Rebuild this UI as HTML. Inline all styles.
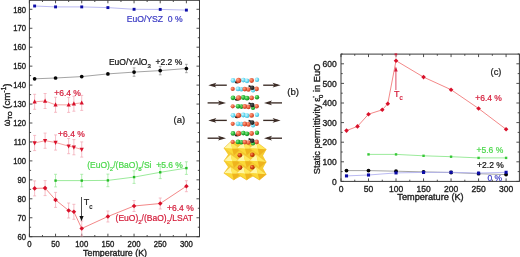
<!DOCTYPE html>
<html><head><meta charset="utf-8"><title>EuO phonon and permittivity figure</title><style>
html,body{margin:0;padding:0;background:#fff;width:520px;height:257px;overflow:hidden;}
svg{display:block;font-family:"Liberation Sans", Arial, sans-serif;filter:blur(0.3px);}
text{white-space:pre;}
.t{stroke-width:0.36px;}
</style></head><body>
<svg width="520" height="257" viewBox="0 0 520 257">
<rect x="29.4" y="0.3" width="170.10" height="236.40" fill="none" stroke="#3a3a3a" stroke-width="1"/>
<path d="M29.40 236.7v-3M29.40 0.3v3" stroke="#3a3a3a" stroke-width="0.9"/>
<text class="t" transform="translate(29.40,246.7) scale(0.91,1)" font-size="8.5" fill="#1e1e1e" stroke="#1e1e1e" stroke-width="0.22" text-anchor="middle">0</text>
<path d="M42.48 236.7v-1.7M42.48 0.3v1.7" stroke="#3a3a3a" stroke-width="0.9"/>
<path d="M55.56 236.7v-3M55.56 0.3v3" stroke="#3a3a3a" stroke-width="0.9"/>
<text class="t" transform="translate(55.56,246.7) scale(0.91,1)" font-size="8.5" fill="#1e1e1e" stroke="#1e1e1e" stroke-width="0.22" text-anchor="middle">50</text>
<path d="M68.65 236.7v-1.7M68.65 0.3v1.7" stroke="#3a3a3a" stroke-width="0.9"/>
<path d="M81.73 236.7v-3M81.73 0.3v3" stroke="#3a3a3a" stroke-width="0.9"/>
<text class="t" transform="translate(81.73,246.7) scale(0.91,1)" font-size="8.5" fill="#1e1e1e" stroke="#1e1e1e" stroke-width="0.22" text-anchor="middle">100</text>
<path d="M94.81 236.7v-1.7M94.81 0.3v1.7" stroke="#3a3a3a" stroke-width="0.9"/>
<path d="M107.90 236.7v-3M107.90 0.3v3" stroke="#3a3a3a" stroke-width="0.9"/>
<text class="t" transform="translate(107.90,246.7) scale(0.91,1)" font-size="8.5" fill="#1e1e1e" stroke="#1e1e1e" stroke-width="0.22" text-anchor="middle">150</text>
<path d="M120.98 236.7v-1.7M120.98 0.3v1.7" stroke="#3a3a3a" stroke-width="0.9"/>
<path d="M134.06 236.7v-3M134.06 0.3v3" stroke="#3a3a3a" stroke-width="0.9"/>
<text class="t" transform="translate(134.06,246.7) scale(0.91,1)" font-size="8.5" fill="#1e1e1e" stroke="#1e1e1e" stroke-width="0.22" text-anchor="middle">200</text>
<path d="M147.14 236.7v-1.7M147.14 0.3v1.7" stroke="#3a3a3a" stroke-width="0.9"/>
<path d="M160.22 236.7v-3M160.22 0.3v3" stroke="#3a3a3a" stroke-width="0.9"/>
<text class="t" transform="translate(160.22,246.7) scale(0.91,1)" font-size="8.5" fill="#1e1e1e" stroke="#1e1e1e" stroke-width="0.22" text-anchor="middle">250</text>
<path d="M173.31 236.7v-1.7M173.31 0.3v1.7" stroke="#3a3a3a" stroke-width="0.9"/>
<path d="M186.39 236.7v-3M186.39 0.3v3" stroke="#3a3a3a" stroke-width="0.9"/>
<text class="t" transform="translate(186.39,246.7) scale(0.91,1)" font-size="8.5" fill="#1e1e1e" stroke="#1e1e1e" stroke-width="0.22" text-anchor="middle">300</text>
<path d="M199.47 236.7v-1.7M199.47 0.3v1.7" stroke="#3a3a3a" stroke-width="0.9"/>
<path d="M29.4 236.70h3M199.5 236.70h-3" stroke="#3a3a3a" stroke-width="0.9"/>
<text class="t" transform="translate(25.9,239.90) scale(0.91,1)" font-size="8.4" fill="#1e1e1e" stroke="#1e1e1e" stroke-width="0.22" text-anchor="end">60</text>
<path d="M29.4 227.22h1.7M199.5 227.22h-1.7" stroke="#3a3a3a" stroke-width="0.9"/>
<path d="M29.4 217.75h3M199.5 217.75h-3" stroke="#3a3a3a" stroke-width="0.9"/>
<text class="t" transform="translate(25.9,220.95) scale(0.91,1)" font-size="8.4" fill="#1e1e1e" stroke="#1e1e1e" stroke-width="0.22" text-anchor="end">70</text>
<path d="M29.4 208.27h1.7M199.5 208.27h-1.7" stroke="#3a3a3a" stroke-width="0.9"/>
<path d="M29.4 198.80h3M199.5 198.80h-3" stroke="#3a3a3a" stroke-width="0.9"/>
<text class="t" transform="translate(25.9,202.00) scale(0.91,1)" font-size="8.4" fill="#1e1e1e" stroke="#1e1e1e" stroke-width="0.22" text-anchor="end">80</text>
<path d="M29.4 189.32h1.7M199.5 189.32h-1.7" stroke="#3a3a3a" stroke-width="0.9"/>
<path d="M29.4 179.85h3M199.5 179.85h-3" stroke="#3a3a3a" stroke-width="0.9"/>
<text class="t" transform="translate(25.9,183.05) scale(0.91,1)" font-size="8.4" fill="#1e1e1e" stroke="#1e1e1e" stroke-width="0.22" text-anchor="end">90</text>
<path d="M29.4 170.38h1.7M199.5 170.38h-1.7" stroke="#3a3a3a" stroke-width="0.9"/>
<path d="M29.4 160.90h3M199.5 160.90h-3" stroke="#3a3a3a" stroke-width="0.9"/>
<text class="t" transform="translate(25.9,164.10) scale(0.91,1)" font-size="8.4" fill="#1e1e1e" stroke="#1e1e1e" stroke-width="0.22" text-anchor="end">100</text>
<path d="M29.4 151.42h1.7M199.5 151.42h-1.7" stroke="#3a3a3a" stroke-width="0.9"/>
<path d="M29.4 141.95h3M199.5 141.95h-3" stroke="#3a3a3a" stroke-width="0.9"/>
<text class="t" transform="translate(25.9,145.15) scale(0.91,1)" font-size="8.4" fill="#1e1e1e" stroke="#1e1e1e" stroke-width="0.22" text-anchor="end">110</text>
<path d="M29.4 132.47h1.7M199.5 132.47h-1.7" stroke="#3a3a3a" stroke-width="0.9"/>
<path d="M29.4 123.00h3M199.5 123.00h-3" stroke="#3a3a3a" stroke-width="0.9"/>
<text class="t" transform="translate(25.9,126.20) scale(0.91,1)" font-size="8.4" fill="#1e1e1e" stroke="#1e1e1e" stroke-width="0.22" text-anchor="end">120</text>
<path d="M29.4 113.52h1.7M199.5 113.52h-1.7" stroke="#3a3a3a" stroke-width="0.9"/>
<path d="M29.4 104.05h3M199.5 104.05h-3" stroke="#3a3a3a" stroke-width="0.9"/>
<text class="t" transform="translate(25.9,107.25) scale(0.91,1)" font-size="8.4" fill="#1e1e1e" stroke="#1e1e1e" stroke-width="0.22" text-anchor="end">130</text>
<path d="M29.4 94.57h1.7M199.5 94.57h-1.7" stroke="#3a3a3a" stroke-width="0.9"/>
<path d="M29.4 85.10h3M199.5 85.10h-3" stroke="#3a3a3a" stroke-width="0.9"/>
<text class="t" transform="translate(25.9,88.30) scale(0.91,1)" font-size="8.4" fill="#1e1e1e" stroke="#1e1e1e" stroke-width="0.22" text-anchor="end">140</text>
<path d="M29.4 75.62h1.7M199.5 75.62h-1.7" stroke="#3a3a3a" stroke-width="0.9"/>
<path d="M29.4 66.15h3M199.5 66.15h-3" stroke="#3a3a3a" stroke-width="0.9"/>
<text class="t" transform="translate(25.9,69.35) scale(0.91,1)" font-size="8.4" fill="#1e1e1e" stroke="#1e1e1e" stroke-width="0.22" text-anchor="end">150</text>
<path d="M29.4 56.67h1.7M199.5 56.67h-1.7" stroke="#3a3a3a" stroke-width="0.9"/>
<path d="M29.4 47.20h3M199.5 47.20h-3" stroke="#3a3a3a" stroke-width="0.9"/>
<text class="t" transform="translate(25.9,50.40) scale(0.91,1)" font-size="8.4" fill="#1e1e1e" stroke="#1e1e1e" stroke-width="0.22" text-anchor="end">160</text>
<path d="M29.4 37.72h1.7M199.5 37.72h-1.7" stroke="#3a3a3a" stroke-width="0.9"/>
<path d="M29.4 28.25h3M199.5 28.25h-3" stroke="#3a3a3a" stroke-width="0.9"/>
<text class="t" transform="translate(25.9,31.45) scale(0.91,1)" font-size="8.4" fill="#1e1e1e" stroke="#1e1e1e" stroke-width="0.22" text-anchor="end">170</text>
<path d="M29.4 18.77h1.7M199.5 18.77h-1.7" stroke="#3a3a3a" stroke-width="0.9"/>
<path d="M29.4 9.30h3M199.5 9.30h-3" stroke="#3a3a3a" stroke-width="0.9"/>
<text class="t" transform="translate(25.9,12.50) scale(0.91,1)" font-size="8.4" fill="#1e1e1e" stroke="#1e1e1e" stroke-width="0.22" text-anchor="end">180</text>
<path d="M29.4 -0.18h1.7M199.5 -0.18h-1.7" stroke="#3a3a3a" stroke-width="0.9"/>
<text x="83.1" y="255.8" font-size="8.85" fill="#1e1e1e" stroke="#1e1e1e" stroke-width="0.22" class="t">Temperature (K)</text>
<text class="t" transform="translate(10.0,126.2) rotate(-90)" font-size="9.8" fill="#1e1e1e" stroke="#1e1e1e" stroke-width="0.22"><tspan font-size="8.6">ω</tspan><tspan font-size="5.8" dy="2.4">TO</tspan><tspan dy="-2.4"> (cm</tspan><tspan font-size="6.4" dy="-3.8">-1</tspan><tspan dy="3.8">)</tspan></text>
<polyline points="34.63,6.00 55.56,6.90 81.73,6.90 107.90,7.60 134.06,9.30 160.22,9.40 186.39,10.10" fill="none" stroke="#aeaef0" stroke-width="0.85"/>
<rect x="33.18" y="4.55" width="2.9" height="2.9" fill="#0c0ca8"/>
<rect x="54.11" y="5.45" width="2.9" height="2.9" fill="#0c0ca8"/>
<rect x="80.28" y="5.45" width="2.9" height="2.9" fill="#0c0ca8"/>
<rect x="106.45" y="6.15" width="2.9" height="2.9" fill="#0c0ca8"/>
<rect x="132.61" y="7.85" width="2.9" height="2.9" fill="#0c0ca8"/>
<rect x="158.78" y="7.95" width="2.9" height="2.9" fill="#0c0ca8"/>
<rect x="184.94" y="8.65" width="2.9" height="2.9" fill="#0c0ca8"/>
<text x="126.8" y="21.5" font-size="8.6" fill="#3c3cc4" stroke="#3c3cc4" stroke-width="0.22" >EuO/YSZ  0 %</text>
<path d="M134.06 67.90V76.30M132.66 67.90H135.46M132.66 76.30H135.46" stroke="#777" stroke-width="0.6" fill="none"/>
<path d="M160.22 66.40V74.80M158.82 66.40H161.62M158.82 74.80H161.62" stroke="#777" stroke-width="0.6" fill="none"/>
<path d="M186.39 64.30V72.70M184.99 64.30H187.79M184.99 72.70H187.79" stroke="#777" stroke-width="0.6" fill="none"/>
<polyline points="34.63,78.80 55.56,78.00 81.73,76.60 107.90,73.90 134.06,72.10 160.22,70.60 186.39,68.50" fill="none" stroke="#9a9a9a" stroke-width="0.9"/>
<circle cx="34.63" cy="78.80" r="1.85" fill="#050505"/>
<circle cx="55.56" cy="78.00" r="1.85" fill="#050505"/>
<circle cx="81.73" cy="76.60" r="1.85" fill="#050505"/>
<circle cx="107.90" cy="73.90" r="1.85" fill="#050505"/>
<circle cx="134.06" cy="72.10" r="1.85" fill="#050505"/>
<circle cx="160.22" cy="70.60" r="1.85" fill="#050505"/>
<circle cx="186.39" cy="68.50" r="1.85" fill="#050505"/>
<text x="108.9" y="65.1" font-size="8.5" fill="#111" stroke="#111" stroke-width="0.22" >EuO/YAlO<tspan font-size="6.0" dy="2.7">3</tspan><tspan dy="-2.7">  +2.2 %</tspan></text>
<path d="M34.63 94.30V109.30M33.13 94.30H36.13M33.13 109.30H36.13" stroke="#f2a4b0" stroke-width="0.7" fill="none"/>
<path d="M45.10 93.50V108.50M43.60 93.50H46.60M43.60 108.50H46.60" stroke="#f2a4b0" stroke-width="0.7" fill="none"/>
<path d="M55.56 97.30V112.30M54.06 97.30H57.06M54.06 112.30H57.06" stroke="#f2a4b0" stroke-width="0.7" fill="none"/>
<path d="M68.65 97.40V112.40M67.15 97.40H70.15M67.15 112.40H70.15" stroke="#f2a4b0" stroke-width="0.7" fill="none"/>
<path d="M73.88 96.20V111.20M72.38 96.20H75.38M72.38 111.20H75.38" stroke="#f2a4b0" stroke-width="0.7" fill="none"/>
<path d="M81.73 95.40V110.40M80.23 95.40H83.23M80.23 110.40H83.23" stroke="#f2a4b0" stroke-width="0.7" fill="none"/>
<polyline points="34.63,101.80 45.10,101.00 55.56,104.80 68.65,104.90 73.88,103.70 81.73,102.90" fill="none" stroke="#f27a7a" stroke-width="0.7"/>
<polygon points="34.63,99.28 32.53,103.48 36.73,103.48" fill="#d8102a"/>
<polygon points="45.10,98.48 43.00,102.68 47.20,102.68" fill="#d8102a"/>
<polygon points="55.56,102.28 53.46,106.48 57.66,106.48" fill="#d8102a"/>
<polygon points="68.65,102.38 66.55,106.58 70.75,106.58" fill="#d8102a"/>
<polygon points="73.88,101.18 71.78,105.38 75.98,105.38" fill="#d8102a"/>
<polygon points="81.73,100.38 79.63,104.58 83.83,104.58" fill="#d8102a"/>
<text x="54.2" y="96.3" font-size="8.5" fill="#d41c3a" stroke="#d41c3a" stroke-width="0.22" >+6.4 %</text>
<path d="M34.63 135.40V150.60M33.13 135.40H36.13M33.13 150.60H36.13" stroke="#f2a4b0" stroke-width="0.7" fill="none"/>
<path d="M45.10 133.10V148.30M43.60 133.10H46.60M43.60 148.30H46.60" stroke="#f2a4b0" stroke-width="0.7" fill="none"/>
<path d="M55.56 134.90V150.10M54.06 134.90H57.06M54.06 150.10H57.06" stroke="#f2a4b0" stroke-width="0.7" fill="none"/>
<path d="M68.65 138.50V153.70M67.15 138.50H70.15M67.15 153.70H70.15" stroke="#f2a4b0" stroke-width="0.7" fill="none"/>
<path d="M73.88 139.60V154.80M72.38 139.60H75.38M72.38 154.80H75.38" stroke="#f2a4b0" stroke-width="0.7" fill="none"/>
<path d="M81.73 141.90V157.10M80.23 141.90H83.23M80.23 157.10H83.23" stroke="#f2a4b0" stroke-width="0.7" fill="none"/>
<polyline points="34.63,143.00 45.10,140.70 55.56,142.50 68.65,146.10 73.88,147.20 81.73,149.50" fill="none" stroke="#f27a7a" stroke-width="0.7"/>
<polygon points="34.63,145.52 32.53,141.32 36.73,141.32" fill="#d8102a"/>
<polygon points="45.10,143.22 43.00,139.02 47.20,139.02" fill="#d8102a"/>
<polygon points="55.56,145.02 53.46,140.82 57.66,140.82" fill="#d8102a"/>
<polygon points="68.65,148.62 66.55,144.42 70.75,144.42" fill="#d8102a"/>
<polygon points="73.88,149.72 71.78,145.52 75.98,145.52" fill="#d8102a"/>
<polygon points="81.73,152.02 79.63,147.82 83.83,147.82" fill="#d8102a"/>
<text x="58.1" y="136.9" font-size="8.5" fill="#d41c3a" stroke="#d41c3a" stroke-width="0.22" >+6.4 %</text>
<path d="M55.56 174.30V186.90M54.06 174.30H57.06M54.06 186.90H57.06" stroke="#94e894" stroke-width="0.7" fill="none"/>
<path d="M81.73 174.30V186.90M80.23 174.30H83.23M80.23 186.90H83.23" stroke="#94e894" stroke-width="0.7" fill="none"/>
<path d="M107.90 174.10V186.70M106.40 174.10H109.40M106.40 186.70H109.40" stroke="#94e894" stroke-width="0.7" fill="none"/>
<path d="M134.06 170.80V183.40M132.56 170.80H135.56M132.56 183.40H135.56" stroke="#94e894" stroke-width="0.7" fill="none"/>
<path d="M160.22 166.00V178.60M158.72 166.00H161.72M158.72 178.60H161.72" stroke="#94e894" stroke-width="0.7" fill="none"/>
<path d="M186.39 161.80V174.40M184.89 161.80H187.89M184.89 174.40H187.89" stroke="#94e894" stroke-width="0.7" fill="none"/>
<polyline points="55.56,180.60 81.73,180.60 107.90,180.40 134.06,177.10 160.22,172.30 186.39,168.10" fill="none" stroke="#90e890" stroke-width="0.9"/>
<rect x="54.36" y="179.40" width="2.4" height="2.4" fill="#26bb26"/>
<rect x="80.53" y="179.40" width="2.4" height="2.4" fill="#26bb26"/>
<rect x="106.70" y="179.20" width="2.4" height="2.4" fill="#26bb26"/>
<rect x="132.86" y="175.90" width="2.4" height="2.4" fill="#26bb26"/>
<rect x="159.03" y="171.10" width="2.4" height="2.4" fill="#26bb26"/>
<rect x="185.19" y="166.90" width="2.4" height="2.4" fill="#26bb26"/>
<text x="87.2" y="168.0" font-size="8.5" fill="#4cd84c" stroke="#4cd84c" stroke-width="0.22" >(EuO)<tspan font-size="6.0" dy="2.7">2</tspan><tspan dy="-2.7">/(BaO)</tspan><tspan font-size="6.0" dy="2.7">8</tspan><tspan dy="-2.7">/Si  +5.6 %</tspan></text>
<path d="M34.63 180.90V195.90M33.13 180.90H36.13M33.13 195.90H36.13" stroke="#f2a4b0" stroke-width="0.7" fill="none"/>
<path d="M45.10 180.60V195.60M43.60 180.60H46.60M43.60 195.60H46.60" stroke="#f2a4b0" stroke-width="0.7" fill="none"/>
<path d="M55.56 192.40V207.40M54.06 192.40H57.06M54.06 207.40H57.06" stroke="#f2a4b0" stroke-width="0.7" fill="none"/>
<path d="M68.65 203.00V218.00M67.15 203.00H70.15M67.15 218.00H70.15" stroke="#f2a4b0" stroke-width="0.7" fill="none"/>
<path d="M73.88 204.30V219.30M72.38 204.30H75.38M72.38 219.30H75.38" stroke="#f2a4b0" stroke-width="0.7" fill="none"/>
<path d="M81.73 221.00V236.00M80.23 221.00H83.23M80.23 236.00H83.23" stroke="#f2a4b0" stroke-width="0.7" fill="none"/>
<path d="M107.90 211.00V222.00M106.40 211.00H109.40M106.40 222.00H109.40" stroke="#f2a4b0" stroke-width="0.7" fill="none"/>
<path d="M134.06 200.50V211.50M132.56 200.50H135.56M132.56 211.50H135.56" stroke="#f2a4b0" stroke-width="0.7" fill="none"/>
<path d="M160.22 198.00V209.00M158.72 198.00H161.72M158.72 209.00H161.72" stroke="#f2a4b0" stroke-width="0.7" fill="none"/>
<path d="M186.39 180.70V191.70M184.89 180.70H187.89M184.89 191.70H187.89" stroke="#f2a4b0" stroke-width="0.7" fill="none"/>
<polyline points="34.63,188.40 45.10,188.10 55.56,199.90 68.65,210.50 73.88,211.80 81.73,228.50 107.90,216.50 134.06,206.00 160.22,203.50 186.39,186.20" fill="none" stroke="#f27a7a" stroke-width="0.9"/>
<polygon points="34.63,186.10 36.93,188.40 34.63,190.70 32.33,188.40" fill="#d8102a"/>
<polygon points="45.10,185.80 47.40,188.10 45.10,190.40 42.80,188.10" fill="#d8102a"/>
<polygon points="55.56,197.60 57.86,199.90 55.56,202.20 53.27,199.90" fill="#d8102a"/>
<polygon points="68.65,208.20 70.95,210.50 68.65,212.80 66.35,210.50" fill="#d8102a"/>
<polygon points="73.88,209.50 76.18,211.80 73.88,214.10 71.58,211.80" fill="#d8102a"/>
<polygon points="81.73,226.20 84.03,228.50 81.73,230.80 79.43,228.50" fill="#d8102a"/>
<polygon points="107.90,214.20 110.20,216.50 107.90,218.80 105.60,216.50" fill="#d8102a"/>
<polygon points="134.06,203.70 136.36,206.00 134.06,208.30 131.76,206.00" fill="#d8102a"/>
<polygon points="160.22,201.20 162.53,203.50 160.22,205.80 157.92,203.50" fill="#d8102a"/>
<polygon points="186.39,183.90 188.69,186.20 186.39,188.50 184.09,186.20" fill="#d8102a"/>
<text x="167.0" y="211.0" font-size="8.5" fill="#d41c3a" stroke="#d41c3a" stroke-width="0.22" >+6.4 %</text>
<text x="115.6" y="220.9" font-size="8.5" fill="#d41c3a" stroke="#d41c3a" stroke-width="0.22" >(EuO)<tspan font-size="6.0" dy="2.7">2</tspan><tspan dy="-2.7">/(BaO)</tspan><tspan font-size="6.0" dy="2.7">2</tspan><tspan dy="-2.7">/LSAT</tspan></text>
<line x1="81.5" y1="197" x2="81.5" y2="217" stroke="#222" stroke-width="0.8"/>
<polygon points="79.4,216.0 83.6,216.0 81.5,221.3" fill="#111"/>
<text x="83.7" y="204.8" font-size="9" fill="#222" stroke="#222" stroke-width="0.22">T<tspan font-size="6.4" dy="4.0">c</tspan></text>
<text x="173.6" y="122.6" font-size="9.5" fill="#222" stroke="#222" stroke-width="0.22" >(a)</text>
<rect x="341.0" y="54.1" width="178.40" height="127.30" fill="none" stroke="#3a3a3a" stroke-width="1"/>
<path d="M341.00 181.4v-3M341.00 54.1v3" stroke="#3a3a3a" stroke-width="0.9"/>
<text class="t" transform="translate(341.00,192.3) scale(0.95,1)" font-size="9.0" fill="#1e1e1e" stroke="#1e1e1e" stroke-width="0.22" text-anchor="middle">0</text>
<path d="M354.76 181.4v-1.7M354.76 54.1v1.7" stroke="#3a3a3a" stroke-width="0.9"/>
<path d="M368.51 181.4v-3M368.51 54.1v3" stroke="#3a3a3a" stroke-width="0.9"/>
<text class="t" transform="translate(368.51,192.3) scale(0.95,1)" font-size="9.0" fill="#1e1e1e" stroke="#1e1e1e" stroke-width="0.22" text-anchor="middle">50</text>
<path d="M382.27 181.4v-1.7M382.27 54.1v1.7" stroke="#3a3a3a" stroke-width="0.9"/>
<path d="M396.03 181.4v-3M396.03 54.1v3" stroke="#3a3a3a" stroke-width="0.9"/>
<text class="t" transform="translate(396.03,192.3) scale(0.95,1)" font-size="9.0" fill="#1e1e1e" stroke="#1e1e1e" stroke-width="0.22" text-anchor="middle">100</text>
<path d="M409.79 181.4v-1.7M409.79 54.1v1.7" stroke="#3a3a3a" stroke-width="0.9"/>
<path d="M423.55 181.4v-3M423.55 54.1v3" stroke="#3a3a3a" stroke-width="0.9"/>
<text class="t" transform="translate(423.55,192.3) scale(0.95,1)" font-size="9.0" fill="#1e1e1e" stroke="#1e1e1e" stroke-width="0.22" text-anchor="middle">150</text>
<path d="M437.30 181.4v-1.7M437.30 54.1v1.7" stroke="#3a3a3a" stroke-width="0.9"/>
<path d="M451.06 181.4v-3M451.06 54.1v3" stroke="#3a3a3a" stroke-width="0.9"/>
<text class="t" transform="translate(451.06,192.3) scale(0.95,1)" font-size="9.0" fill="#1e1e1e" stroke="#1e1e1e" stroke-width="0.22" text-anchor="middle">200</text>
<path d="M464.82 181.4v-1.7M464.82 54.1v1.7" stroke="#3a3a3a" stroke-width="0.9"/>
<path d="M478.57 181.4v-3M478.57 54.1v3" stroke="#3a3a3a" stroke-width="0.9"/>
<text class="t" transform="translate(478.57,192.3) scale(0.95,1)" font-size="9.0" fill="#1e1e1e" stroke="#1e1e1e" stroke-width="0.22" text-anchor="middle">250</text>
<path d="M492.33 181.4v-1.7M492.33 54.1v1.7" stroke="#3a3a3a" stroke-width="0.9"/>
<path d="M506.09 181.4v-3M506.09 54.1v3" stroke="#3a3a3a" stroke-width="0.9"/>
<text class="t" transform="translate(506.09,192.3) scale(0.95,1)" font-size="9.0" fill="#1e1e1e" stroke="#1e1e1e" stroke-width="0.22" text-anchor="middle">300</text>
<path d="M519.85 181.4v-1.7M519.85 54.1v1.7" stroke="#3a3a3a" stroke-width="0.9"/>
<path d="M341.0 181.40h3M519.4 181.40h-3" stroke="#3a3a3a" stroke-width="0.9"/>
<text class="t" transform="translate(336.8,184.60) scale(0.95,1)" font-size="9.0" fill="#1e1e1e" stroke="#1e1e1e" stroke-width="0.22" text-anchor="end">0</text>
<path d="M341.0 171.60h1.7M519.4 171.60h-1.7" stroke="#3a3a3a" stroke-width="0.9"/>
<path d="M341.0 161.80h3M519.4 161.80h-3" stroke="#3a3a3a" stroke-width="0.9"/>
<text class="t" transform="translate(336.8,165.00) scale(0.95,1)" font-size="9.0" fill="#1e1e1e" stroke="#1e1e1e" stroke-width="0.22" text-anchor="end">100</text>
<path d="M341.0 152.00h1.7M519.4 152.00h-1.7" stroke="#3a3a3a" stroke-width="0.9"/>
<path d="M341.0 142.20h3M519.4 142.20h-3" stroke="#3a3a3a" stroke-width="0.9"/>
<text class="t" transform="translate(336.8,145.40) scale(0.95,1)" font-size="9.0" fill="#1e1e1e" stroke="#1e1e1e" stroke-width="0.22" text-anchor="end">200</text>
<path d="M341.0 132.40h1.7M519.4 132.40h-1.7" stroke="#3a3a3a" stroke-width="0.9"/>
<path d="M341.0 122.60h3M519.4 122.60h-3" stroke="#3a3a3a" stroke-width="0.9"/>
<text class="t" transform="translate(336.8,125.80) scale(0.95,1)" font-size="9.0" fill="#1e1e1e" stroke="#1e1e1e" stroke-width="0.22" text-anchor="end">300</text>
<path d="M341.0 112.80h1.7M519.4 112.80h-1.7" stroke="#3a3a3a" stroke-width="0.9"/>
<path d="M341.0 103.00h3M519.4 103.00h-3" stroke="#3a3a3a" stroke-width="0.9"/>
<text class="t" transform="translate(336.8,106.20) scale(0.95,1)" font-size="9.0" fill="#1e1e1e" stroke="#1e1e1e" stroke-width="0.22" text-anchor="end">400</text>
<path d="M341.0 93.20h1.7M519.4 93.20h-1.7" stroke="#3a3a3a" stroke-width="0.9"/>
<path d="M341.0 83.40h3M519.4 83.40h-3" stroke="#3a3a3a" stroke-width="0.9"/>
<text class="t" transform="translate(336.8,86.60) scale(0.95,1)" font-size="9.0" fill="#1e1e1e" stroke="#1e1e1e" stroke-width="0.22" text-anchor="end">500</text>
<path d="M341.0 73.60h1.7M519.4 73.60h-1.7" stroke="#3a3a3a" stroke-width="0.9"/>
<path d="M341.0 63.80h3M519.4 63.80h-3" stroke="#3a3a3a" stroke-width="0.9"/>
<text class="t" transform="translate(336.8,67.00) scale(0.95,1)" font-size="9.0" fill="#1e1e1e" stroke="#1e1e1e" stroke-width="0.22" text-anchor="end">600</text>
<path d="M341.0 54.00h1.7M519.4 54.00h-1.7" stroke="#3a3a3a" stroke-width="0.9"/>
<text x="397.3" y="200.4" font-size="9.2" fill="#1e1e1e" stroke="#1e1e1e" stroke-width="0.22" class="t">Temperature (K)</text>
<text class="t" transform="translate(320.4,174.3) rotate(-90) scale(0.957,1)" font-size="9.7" fill="#1e1e1e" stroke="#1e1e1e" stroke-width="0.22">Static permittivity ε<tspan font-size="6.2" dy="-3.6">'</tspan><tspan font-size="6.2" dx="-1.6" dy="5.8">0</tspan><tspan dy="-2.2"> in EuO</tspan></text>
<polyline points="346.50,130.60 357.51,126.40 368.51,114.20 382.27,109.80 387.78,103.70 396.03,60.70 423.55,77.10 451.06,89.70 478.57,108.50 506.09,129.30" fill="none" stroke="#f27a7a" stroke-width="0.9"/>
<polygon points="346.50,128.30 348.80,130.60 346.50,132.90 344.20,130.60" fill="#d8102a"/>
<polygon points="357.51,124.10 359.81,126.40 357.51,128.70 355.21,126.40" fill="#d8102a"/>
<polygon points="368.51,111.90 370.81,114.20 368.51,116.50 366.21,114.20" fill="#d8102a"/>
<polygon points="382.27,107.50 384.57,109.80 382.27,112.10 379.97,109.80" fill="#d8102a"/>
<polygon points="387.78,101.40 390.08,103.70 387.78,106.00 385.48,103.70" fill="#d8102a"/>
<polygon points="396.03,58.40 398.33,60.70 396.03,63.00 393.73,60.70" fill="#d8102a"/>
<polygon points="423.55,74.80 425.85,77.10 423.55,79.40 421.25,77.10" fill="#d8102a"/>
<polygon points="451.06,87.40 453.36,89.70 451.06,92.00 448.76,89.70" fill="#d8102a"/>
<polygon points="478.57,106.20 480.88,108.50 478.57,110.80 476.27,108.50" fill="#d8102a"/>
<polygon points="506.09,127.00 508.39,129.30 506.09,131.60 503.79,129.30" fill="#d8102a"/>
<text x="475.2" y="100.7" font-size="8.5" fill="#d41c3a" stroke="#d41c3a" stroke-width="0.22" >+6.4 %</text>
<rect x="394.6" y="53.4" width="2.6" height="2.0" fill="#c8203a"/><line x1="395.9" y1="55" x2="395.9" y2="59" stroke="#f0a0a8" stroke-width="0.7"/>
<line x1="395.9" y1="90" x2="395.9" y2="70" stroke="#d41c3a" stroke-width="0.8"/>
<polygon points="394.1,71.6 397.7,71.6 395.9,66.4" fill="#d41c3a"/>
<text x="393.9" y="96.9" font-size="9" fill="#d41c3a" stroke="#d41c3a" stroke-width="0.22">T<tspan font-size="6.4" dy="3.3">c</tspan></text>
<text x="490.6" y="74.5" font-size="9.3" fill="#222" stroke="#222" stroke-width="0.22" >(c)</text>
<polyline points="368.51,154.40 396.03,154.40 423.55,155.80 451.06,156.70 478.57,157.90 506.09,157.90" fill="none" stroke="#90e890" stroke-width="0.9"/>
<rect x="367.31" y="153.20" width="2.4" height="2.4" fill="#36c836"/>
<rect x="394.83" y="153.20" width="2.4" height="2.4" fill="#36c836"/>
<rect x="422.35" y="154.60" width="2.4" height="2.4" fill="#36c836"/>
<rect x="449.86" y="155.50" width="2.4" height="2.4" fill="#36c836"/>
<rect x="477.38" y="156.70" width="2.4" height="2.4" fill="#36c836"/>
<rect x="504.89" y="156.70" width="2.4" height="2.4" fill="#36c836"/>
<text x="476.5" y="153.2" font-size="8.5" fill="#4cd84c" stroke="#4cd84c" stroke-width="0.22" >+5.6 %</text>
<polyline points="346.50,170.60 368.51,170.60 396.03,171.20 423.55,171.90 451.06,172.50 478.57,173.70 506.09,174.60" fill="none" stroke="#9a9a9a" stroke-width="0.9"/>
<circle cx="346.50" cy="170.60" r="1.9" fill="#050505"/>
<circle cx="368.51" cy="170.60" r="1.9" fill="#050505"/>
<circle cx="396.03" cy="171.20" r="1.9" fill="#050505"/>
<circle cx="423.55" cy="171.90" r="1.9" fill="#050505"/>
<circle cx="451.06" cy="172.50" r="1.9" fill="#050505"/>
<circle cx="478.57" cy="173.70" r="1.9" fill="#050505"/>
<circle cx="506.09" cy="174.60" r="1.9" fill="#050505"/>
<text x="477.1" y="168.0" font-size="8.5" fill="#111" stroke="#111" stroke-width="0.22" >+2.2 %</text>
<polyline points="346.50,175.90 368.51,175.00 396.03,172.90 423.55,172.40 451.06,172.30 478.57,173.10 506.09,172.30" fill="none" stroke="#aeaef0" stroke-width="0.85"/>
<rect x="344.95" y="174.35" width="3.1" height="3.1" fill="#0c0ca8"/>
<rect x="366.96" y="173.45" width="3.1" height="3.1" fill="#0c0ca8"/>
<rect x="394.48" y="171.35" width="3.1" height="3.1" fill="#0c0ca8"/>
<rect x="422.00" y="170.85" width="3.1" height="3.1" fill="#0c0ca8"/>
<rect x="449.51" y="170.75" width="3.1" height="3.1" fill="#0c0ca8"/>
<rect x="477.02" y="171.55" width="3.1" height="3.1" fill="#0c0ca8"/>
<rect x="504.54" y="170.75" width="3.1" height="3.1" fill="#0c0ca8"/>
<text x="487.5" y="180.9" font-size="8.5" fill="#3c3cc4" stroke="#3c3cc4" stroke-width="0.22" >0 %</text>
<line x1="226.8" y1="85.2" x2="211.3" y2="85.2" stroke="#3c2c26" stroke-width="1.35"/><polygon points="208.3,85.2 216.3,82.8 214.5,85.2 216.3,87.60000000000001" fill="#3c2c26"/>
<line x1="263.2" y1="85.2" x2="277.6" y2="85.2" stroke="#3c2c26" stroke-width="1.35"/><polygon points="280.6,85.2 272.6,82.8 274.40000000000003,85.2 272.6,87.60000000000001" fill="#3c2c26"/>
<line x1="207.6" y1="102.9" x2="223.0" y2="102.9" stroke="#3c2c26" stroke-width="1.35"/><polygon points="226.0,102.9 218.0,100.5 219.8,102.9 218.0,105.30000000000001" fill="#3c2c26"/>
<line x1="282.0" y1="102.9" x2="267.0" y2="102.9" stroke="#3c2c26" stroke-width="1.35"/><polygon points="264.0,102.9 272.0,100.5 270.2,102.9 272.0,105.30000000000001" fill="#3c2c26"/>
<line x1="226.8" y1="120.4" x2="211.3" y2="120.4" stroke="#3c2c26" stroke-width="1.35"/><polygon points="208.3,120.4 216.3,118.0 214.5,120.4 216.3,122.80000000000001" fill="#3c2c26"/>
<line x1="263.2" y1="120.4" x2="277.6" y2="120.4" stroke="#3c2c26" stroke-width="1.35"/><polygon points="280.6,120.4 272.6,118.0 274.40000000000003,120.4 272.6,122.80000000000001" fill="#3c2c26"/>
<line x1="207.6" y1="138.2" x2="223.0" y2="138.2" stroke="#3c2c26" stroke-width="1.35"/><polygon points="226.0,138.2 218.0,135.79999999999998 219.8,138.2 218.0,140.6" fill="#3c2c26"/>
<line x1="282.0" y1="138.2" x2="267.0" y2="138.2" stroke="#3c2c26" stroke-width="1.35"/><polygon points="264.0,138.2 272.0,135.79999999999998 270.2,138.2 272.0,140.6" fill="#3c2c26"/>
<text x="287.2" y="95.0" font-size="9.7" fill="#222" stroke="#222" stroke-width="0.22" >(b)</text>
<defs><radialGradient id="ball" cx="0.35" cy="0.35" r="0.7"><stop offset="0" stop-color="#f89060"/><stop offset="0.5" stop-color="#d8420e"/><stop offset="1" stop-color="#9a2404"/></radialGradient><radialGradient id="cy" cx="0.35" cy="0.35" r="0.7"><stop offset="0" stop-color="#d0f8ff"/><stop offset="0.6" stop-color="#66d8f0"/><stop offset="1" stop-color="#3cb0d0"/></radialGradient><radialGradient id="gn" cx="0.35" cy="0.35" r="0.7"><stop offset="0" stop-color="#88ee88"/><stop offset="0.6" stop-color="#26b236"/><stop offset="1" stop-color="#147e20"/></radialGradient><radialGradient id="rd" cx="0.35" cy="0.35" r="0.7"><stop offset="0" stop-color="#ffa888"/><stop offset="0.6" stop-color="#e85a3a"/><stop offset="1" stop-color="#b83a20"/></radialGradient><radialGradient id="bk" cx="0.35" cy="0.35" r="0.7"><stop offset="0" stop-color="#555"/><stop offset="1" stop-color="#111"/></radialGradient></defs>
<polygon points="223.8,148.2 228,154.6 223.8,160.7 228,167 223.8,173.1 233.8,180.1 240.3,176.4 246.7,180.1 253,176.4 259.4,180.1 266.4,174.3 263,168.2 266.4,161.9 263,155.7 266.4,149.4 256.2,141.8 243.5,141.8 230.6,141.8" fill="#f6cc30"/>
<polygon points="223.8,148.2 230.6,141.8 232.2,148.8" fill="#fff7a4" />
<polygon points="230.6,141.8 240.8,148.8 232.2,148.8" fill="#ffe95a" />
<polygon points="223.8,148.2 232.2,148.8 233.8,155.2" fill="#fbd936" />
<polygon points="232.2,148.8 240.8,148.8 233.8,155.2" fill="#efb41c" />
<polygon points="223.8,148.2 230.6,141.8 240.8,148.8 233.8,155.2" fill="none" stroke="#eab030" stroke-width="0.4"/>
<polygon points="236.7,148.2 243.5,141.8 245.1,148.8" fill="#fff7a4" />
<polygon points="243.5,141.8 253.7,148.8 245.1,148.8" fill="#ffe95a" />
<polygon points="236.7,148.2 245.1,148.8 246.7,155.2" fill="#fbd936" />
<polygon points="245.1,148.8 253.7,148.8 246.7,155.2" fill="#efb41c" />
<polygon points="236.7,148.2 243.5,141.8 253.7,148.8 246.7,155.2" fill="none" stroke="#eab030" stroke-width="0.4"/>
<polygon points="249.4,148.2 256.2,141.8 257.8,148.8" fill="#fff7a4" />
<polygon points="256.2,141.8 266.4,149.4 257.8,148.8" fill="#ffe95a" />
<polygon points="249.4,148.2 257.8,148.8 259.4,155.2" fill="#fbd936" />
<polygon points="257.8,148.8 266.4,149.4 259.4,155.2" fill="#efb41c" />
<polygon points="249.4,148.2 256.2,141.8 266.4,149.4 259.4,155.2" fill="none" stroke="#eab030" stroke-width="0.4"/>
<polygon points="223.8,160.7 230.6,154.3 232.2,161.3" fill="#fff7a4" />
<polygon points="230.6,154.3 240.8,161.3 232.2,161.3" fill="#ffe95a" />
<polygon points="223.8,160.7 232.2,161.3 233.8,167.7" fill="#fbd936" />
<polygon points="232.2,161.3 240.8,161.3 233.8,167.7" fill="#efb41c" />
<polygon points="223.8,160.7 230.6,154.3 240.8,161.3 233.8,167.7" fill="none" stroke="#eab030" stroke-width="0.4"/>
<polygon points="236.7,160.7 243.5,154.3 245.1,161.3" fill="#fff7a4" />
<polygon points="243.5,154.3 253.7,161.3 245.1,161.3" fill="#ffe95a" />
<polygon points="236.7,160.7 245.1,161.3 246.7,167.7" fill="#fbd936" />
<polygon points="245.1,161.3 253.7,161.3 246.7,167.7" fill="#efb41c" />
<polygon points="236.7,160.7 243.5,154.3 253.7,161.3 246.7,167.7" fill="none" stroke="#eab030" stroke-width="0.4"/>
<polygon points="249.4,160.7 256.2,154.3 257.8,161.3" fill="#fff7a4" />
<polygon points="256.2,154.3 266.4,161.9 257.8,161.3" fill="#ffe95a" />
<polygon points="249.4,160.7 257.8,161.3 259.4,167.7" fill="#fbd936" />
<polygon points="257.8,161.3 266.4,161.9 259.4,167.7" fill="#efb41c" />
<polygon points="249.4,160.7 256.2,154.3 266.4,161.9 259.4,167.7" fill="none" stroke="#eab030" stroke-width="0.4"/>
<polygon points="223.8,173.1 230.6,166.7 232.2,173.7" fill="#fff7a4" />
<polygon points="230.6,166.7 240.8,173.7 232.2,173.7" fill="#ffe95a" />
<polygon points="223.8,173.1 232.2,173.7 233.8,180.1" fill="#fbd936" />
<polygon points="232.2,173.7 240.8,173.7 233.8,180.1" fill="#efb41c" />
<polygon points="223.8,173.1 230.6,166.7 240.8,173.7 233.8,180.1" fill="none" stroke="#eab030" stroke-width="0.4"/>
<polygon points="236.7,173.1 243.5,166.7 245.1,173.7" fill="#fff7a4" />
<polygon points="243.5,166.7 253.7,173.7 245.1,173.7" fill="#ffe95a" />
<polygon points="236.7,173.1 245.1,173.7 246.7,180.1" fill="#fbd936" />
<polygon points="245.1,173.7 253.7,173.7 246.7,180.1" fill="#efb41c" />
<polygon points="236.7,173.1 243.5,166.7 253.7,173.7 246.7,180.1" fill="none" stroke="#eab030" stroke-width="0.4"/>
<polygon points="249.4,173.1 256.2,166.7 257.8,173.7" fill="#fff7a4" />
<polygon points="256.2,166.7 266.4,174.3 257.8,173.7" fill="#ffe95a" />
<polygon points="249.4,173.1 257.8,173.7 259.4,180.1" fill="#fbd936" />
<polygon points="257.8,173.7 266.4,174.3 259.4,180.1" fill="#efb41c" />
<polygon points="249.4,173.1 256.2,166.7 266.4,174.3 259.4,180.1" fill="none" stroke="#eab030" stroke-width="0.4"/>
<circle cx="239.8" cy="155.2" r="2.3" fill="url(#ball)"/>
<circle cx="252.3" cy="154.8" r="2.3" fill="url(#ball)"/>
<circle cx="240.0" cy="167.6" r="2.3" fill="url(#ball)"/>
<circle cx="252.3" cy="167.3" r="2.3" fill="url(#ball)"/>
<circle cx="233.0" cy="80.4" r="2.4" fill="url(#cy)"/>
<circle cx="243.3" cy="80.1" r="2.4" fill="url(#cy)"/>
<circle cx="257.0" cy="79.8" r="2.2" fill="url(#cy)"/>
<circle cx="251.6" cy="80.5" r="2.4" fill="url(#rd)"/>
<circle cx="247.0" cy="80.8" r="2.4" fill="url(#cy)"/>
<ellipse cx="237.0" cy="82.2" rx="2.2" ry="1.2" fill="#2a1a14"/>
<circle cx="238.6" cy="80.4" r="2.6" fill="url(#rd)"/>
<circle cx="232.7" cy="88.9" r="2.1" fill="url(#rd)"/>
<circle cx="241.4" cy="89.2" r="2.3" fill="url(#cy)"/>
<circle cx="238.0" cy="88.9" r="2.4" fill="url(#cy)"/>
<circle cx="248.4" cy="89.5" r="2.3" fill="url(#rd)"/>
<circle cx="244.8" cy="89.1" r="2.4" fill="url(#rd)"/>
<line x1="248.6" y1="85.7" x2="253.5" y2="87.7" stroke="#1a1a1a" stroke-width="1.6"/>
<circle cx="256.6" cy="88.9" r="2.3" fill="url(#rd)"/>
<circle cx="253.0" cy="90.5" r="2.1" fill="url(#cy)"/>
<circle cx="252.2" cy="87.7" r="2.3" fill="url(#bk)"/>
<circle cx="233.0" cy="97.8" r="2.4" fill="url(#gn)"/>
<circle cx="243.3" cy="97.5" r="2.4" fill="url(#gn)"/>
<circle cx="257.0" cy="97.2" r="2.2" fill="url(#gn)"/>
<circle cx="251.6" cy="97.9" r="2.4" fill="url(#rd)"/>
<circle cx="247.0" cy="98.2" r="2.4" fill="url(#gn)"/>
<ellipse cx="237.0" cy="99.6" rx="2.2" ry="1.2" fill="#2a1a14"/>
<circle cx="238.6" cy="97.8" r="2.6" fill="url(#rd)"/>
<circle cx="232.7" cy="106.3" r="2.1" fill="url(#rd)"/>
<circle cx="241.4" cy="106.6" r="2.3" fill="url(#gn)"/>
<circle cx="238.0" cy="106.3" r="2.4" fill="url(#gn)"/>
<circle cx="248.4" cy="106.9" r="2.3" fill="url(#rd)"/>
<circle cx="244.8" cy="106.5" r="2.4" fill="url(#rd)"/>
<line x1="248.6" y1="103.1" x2="253.5" y2="105.1" stroke="#1a1a1a" stroke-width="1.6"/>
<circle cx="256.6" cy="106.3" r="2.3" fill="url(#rd)"/>
<circle cx="253.0" cy="107.9" r="2.1" fill="url(#gn)"/>
<circle cx="252.2" cy="105.1" r="2.3" fill="url(#bk)"/>
<circle cx="233.0" cy="115.3" r="2.4" fill="url(#cy)"/>
<circle cx="243.3" cy="115.0" r="2.4" fill="url(#cy)"/>
<circle cx="257.0" cy="114.7" r="2.2" fill="url(#cy)"/>
<circle cx="251.6" cy="115.4" r="2.4" fill="url(#rd)"/>
<circle cx="247.0" cy="115.7" r="2.4" fill="url(#cy)"/>
<ellipse cx="237.0" cy="117.1" rx="2.2" ry="1.2" fill="#2a1a14"/>
<circle cx="238.6" cy="115.3" r="2.6" fill="url(#rd)"/>
<circle cx="232.7" cy="123.8" r="2.1" fill="url(#rd)"/>
<circle cx="241.4" cy="124.1" r="2.3" fill="url(#cy)"/>
<circle cx="238.0" cy="123.8" r="2.4" fill="url(#cy)"/>
<circle cx="248.4" cy="124.4" r="2.3" fill="url(#rd)"/>
<circle cx="244.8" cy="124.0" r="2.4" fill="url(#rd)"/>
<line x1="248.6" y1="120.6" x2="253.5" y2="122.6" stroke="#1a1a1a" stroke-width="1.6"/>
<circle cx="256.6" cy="123.8" r="2.3" fill="url(#rd)"/>
<circle cx="253.0" cy="125.4" r="2.1" fill="url(#cy)"/>
<circle cx="252.2" cy="122.6" r="2.3" fill="url(#bk)"/>
<circle cx="233.0" cy="133.4" r="2.4" fill="url(#gn)"/>
<circle cx="243.3" cy="133.1" r="2.4" fill="url(#gn)"/>
<circle cx="257.0" cy="132.8" r="2.2" fill="url(#gn)"/>
<circle cx="251.6" cy="133.5" r="2.4" fill="url(#rd)"/>
<circle cx="247.0" cy="133.8" r="2.4" fill="url(#gn)"/>
<ellipse cx="237.0" cy="135.2" rx="2.2" ry="1.2" fill="#2a1a14"/>
<circle cx="238.6" cy="133.4" r="2.6" fill="url(#rd)"/>
<circle cx="232.7" cy="141.9" r="2.1" fill="url(#rd)"/>
<circle cx="241.4" cy="142.2" r="2.3" fill="url(#gn)"/>
<circle cx="238.0" cy="141.9" r="2.4" fill="url(#gn)"/>
<circle cx="248.4" cy="142.5" r="2.3" fill="url(#rd)"/>
<circle cx="244.8" cy="142.1" r="2.4" fill="url(#rd)"/>
<line x1="248.6" y1="138.7" x2="253.5" y2="140.7" stroke="#1a1a1a" stroke-width="1.6"/>
<circle cx="256.6" cy="141.9" r="2.3" fill="url(#rd)"/>
<circle cx="253.0" cy="143.5" r="2.1" fill="url(#gn)"/>
<circle cx="252.2" cy="140.7" r="2.3" fill="url(#bk)"/>
</svg>
</body></html>
